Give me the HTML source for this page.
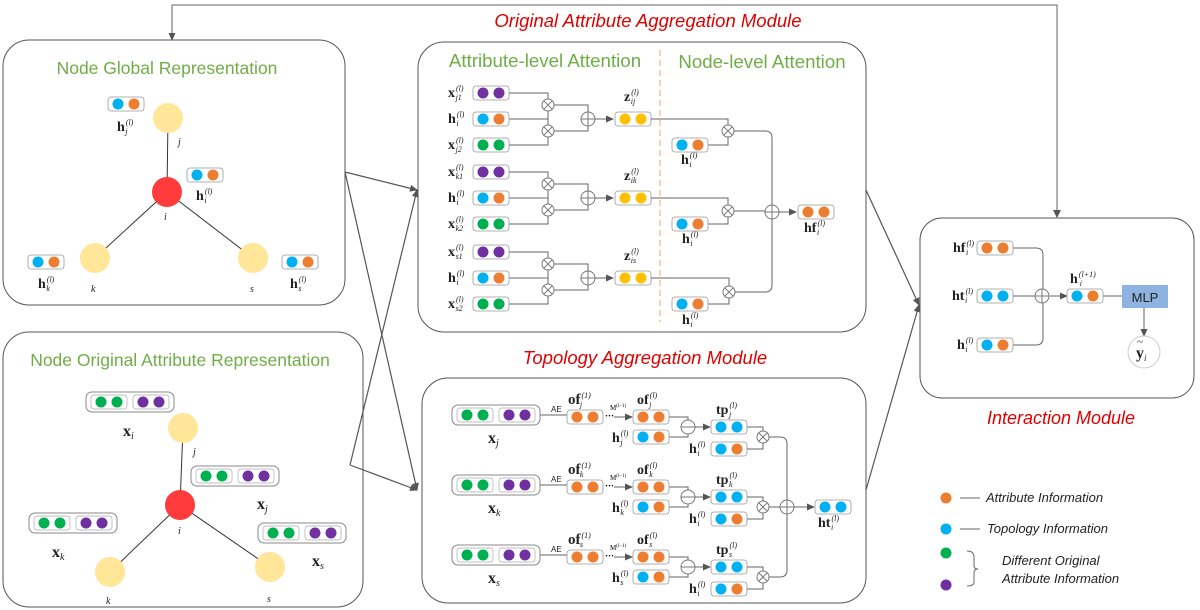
<!DOCTYPE html>
<html><head><meta charset="utf-8"><style>
html,body{margin:0;padding:0;background:#fff}
svg{display:block}
.t{font-family:"Liberation Sans",sans-serif}
.g{fill:#70AD47;font-size:17.5px}
.g2{fill:#70AD47;font-size:18.7px}
.r{fill:#E00000;font-size:18.5px;font-style:italic}
.m{font-family:"Liberation Serif",serif;font-weight:bold;font-size:14px;fill:#222}
.s{font-size:8px;font-weight:normal;font-style:italic}
.it{font-family:"Liberation Serif",serif;font-style:italic;font-size:10px;fill:#222}
.ln{fill:none;stroke:#666;stroke-width:1}
.lg{font-family:"Liberation Sans",sans-serif;font-style:italic;font-size:13px;fill:#222}
</style></head><body>
<svg width="1200" height="610" viewBox="0 0 1200 610" xmlns="http://www.w3.org/2000/svg">
<defs>
<marker id="ar" markerWidth="8" markerHeight="8" refX="7" refY="4" orient="auto" markerUnits="userSpaceOnUse"><path d="M0,0.5 L8,4 L0,7.5z" fill="#555"/></marker>
<g id="pr"><rect x="-18" y="-7" width="36" height="14" rx="3" fill="#fff" stroke="#999" stroke-width="0.8"/></g>
<g id="BO"><use href="#pr"/><circle cx="-8" r="5.5" fill="#00B0F0"/><circle cx="8" r="5.5" fill="#ED7D31"/></g>
<g id="PP"><use href="#pr"/><circle cx="-8" r="5.5" fill="#7030A0"/><circle cx="8" r="5.5" fill="#7030A0"/></g>
<g id="GG"><use href="#pr"/><circle cx="-8" r="5.5" fill="#00B050"/><circle cx="8" r="5.5" fill="#00B050"/></g>
<g id="YY"><use href="#pr"/><circle cx="-8" r="5.5" fill="#FFC000"/><circle cx="8" r="5.5" fill="#FFC000"/></g>
<g id="OO"><use href="#pr"/><circle cx="-8" r="5.5" fill="#ED7D31"/><circle cx="8" r="5.5" fill="#ED7D31"/></g>
<g id="BB"><use href="#pr"/><circle cx="-8" r="5.5" fill="#00B0F0"/><circle cx="8" r="5.5" fill="#00B0F0"/></g>
<g id="X4"><rect x="-44" y="-10" width="88" height="20" rx="6" fill="#fff" stroke="#888"/>
<rect x="-39" y="-7" width="36" height="14" rx="3" fill="#fff" stroke="#aaa" stroke-width="0.7"/>
<rect x="3" y="-7" width="36" height="14" rx="3" fill="#fff" stroke="#aaa" stroke-width="0.7"/>
<circle cx="-29" r="5.5" fill="#00B050"/><circle cx="-13" r="5.5" fill="#00B050"/>
<circle cx="13" r="5.5" fill="#7030A0"/><circle cx="29" r="5.5" fill="#7030A0"/></g>
<g id="OT"><circle r="6" fill="#fff" stroke="#777"/><path d="M-4.2,-4.2L4.2,4.2M4.2,-4.2L-4.2,4.2" stroke="#777"/></g>
<g id="OP"><circle r="7" fill="#fff" stroke="#777"/><path d="M-7,0H7M0,-7V7" stroke="#777"/></g>
<g id="OM"><circle r="7" fill="#fff" stroke="#777"/><path d="M-7,0H7" stroke="#777"/></g>
</defs>

<path class="ln" d="M1057,217 V5 H172 V40" marker-end="url(#ar)" stroke="#555"/>
<path d="M1053,210 L1057,218 L1061,210z" fill="#555"/>

<rect x="3" y="40" width="342" height="265" rx="26" fill="#fff" stroke="#555"/>
<rect x="3" y="332" width="360" height="275" rx="26" fill="#fff" stroke="#555"/>
<rect x="418" y="42" width="448" height="290" rx="26" fill="#fff" stroke="#555"/>
<rect x="422" y="378" width="444" height="225" rx="26" fill="#fff" stroke="#555"/>
<rect x="920" y="218" width="274" height="180" rx="22" fill="#fff" stroke="#555"/>

<g stroke="#555" stroke-width="1.2" fill="none">
<path d="M345,172 L417,190" marker-end="url(#ar)"/>
<path d="M345,172 L417,490" marker-end="url(#ar)"/>
<path d="M350,465 L417,190" marker-end="url(#ar)"/>
<path d="M350,465 L417,490" marker-end="url(#ar)"/>
<path d="M866,190 L919,305" marker-end="url(#ar)"/>
<path d="M866,490 L919,305" marker-end="url(#ar)"/>
</g>

<text class="t g" x="167" y="74" text-anchor="middle">Node Global Representation</text>
<text class="t g" x="180" y="366" text-anchor="middle">Node Original Attribute Representation</text>
<text class="t r" x="648" y="27" text-anchor="middle">Original Attribute Aggregation Module</text>
<text class="t r" x="645" y="364" text-anchor="middle">Topology Aggregation Module</text>
<text class="t r" x="1061" y="424" text-anchor="middle" style="font-size:18px">Interaction Module</text>
<text class="t g2" x="545" y="67" text-anchor="middle">Attribute-level Attention</text>
<text class="t g2" x="762" y="68" text-anchor="middle">Node-level Attention</text>
<path d="M660,50 V322" stroke="#F4B183" stroke-width="1.2" stroke-dasharray="6,4"/>

<g stroke="#333" stroke-width="1">
<path d="M167,192 L168,118 M167,192 L95,258 M167,192 L253,258"/>
<path d="M180,505 L183,428 M180,505 L110,572 M180,505 L270,567"/>
</g>
<circle cx="168" cy="118" r="15" fill="#FFE699"/><circle cx="95" cy="258" r="15" fill="#FFE699"/><circle cx="253" cy="258" r="15" fill="#FFE699"/>
<circle cx="167" cy="192" r="15" fill="#FF3B3B"/>
<circle cx="183" cy="428" r="15" fill="#FFE699"/><circle cx="110" cy="572" r="15" fill="#FFE699"/><circle cx="270" cy="567" r="15" fill="#FFE699"/>
<circle cx="180" cy="505" r="15" fill="#FF3B3B"/>
<text class="it" x="178" y="145">j</text><text class="it" x="164" y="220">i</text><text class="it" x="91" y="292">k</text><text class="it" x="250" y="292">s</text>
<text class="it" x="193" y="455">j</text><text class="it" x="178" y="534">i</text><text class="it" x="106" y="604">k</text><text class="it" x="267" y="602">s</text>
<use href="#BO" x="126" y="104"/><use href="#BO" x="205" y="175"/><use href="#BO" x="46" y="262"/><use href="#BO" x="300" y="262"/>
<g class="m">
<text x="117" y="131">h<tspan class="s" dx="1" dy="-6">(l)</tspan><tspan class="s" dx="-8" dy="9">j</tspan></text>
<text x="196" y="200">h<tspan class="s" dx="1" dy="-6">(l)</tspan><tspan class="s" dx="-8" dy="9">i</tspan></text>
<text x="38" y="288">h<tspan class="s" dx="1" dy="-6">(l)</tspan><tspan class="s" dx="-8" dy="9">k</tspan></text>
<text x="290" y="288">h<tspan class="s" dx="1" dy="-6">(l)</tspan><tspan class="s" dx="-8" dy="9">s</tspan></text>
</g>
<use href="#X4" x="130" y="402"/><use href="#X4" x="235" y="476"/><use href="#X4" x="73" y="523"/><use href="#X4" x="302" y="533"/>
<text class="m" x="123" y="436" style="font-size:16px">x<tspan class="s" dy="3" style="font-size:10px">i</tspan></text>
<text class="m" x="257" y="509" style="font-size:16px">x<tspan class="s" dy="3" style="font-size:10px">j</tspan></text>
<text class="m" x="52" y="557" style="font-size:16px">x<tspan class="s" dy="3" style="font-size:10px">k</tspan></text>
<text class="m" x="312" y="566" style="font-size:16px">x<tspan class="s" dy="3" style="font-size:10px">s</tspan></text>

<g id="grp1">
<path class="ln" d="M509,93 H548 V145 H509 M509,119 H548 M554,105 H588 V131 H554"/>
<path class="ln" d="M595,119 H613" marker-end="url(#ar)"/>
<use href="#PP" x="491" y="93"/><use href="#BO" x="491" y="119"/><use href="#GG" x="491" y="145"/>
<use href="#OT" x="548" y="105"/><use href="#OT" x="548" y="131"/><use href="#OP" x="588" y="119"/>
<use href="#YY" x="633" y="119"/>
</g>
<use href="#grp1" y="79"/><use href="#grp1" y="159"/>
<g class="m">
<text x="448" y="97">x<tspan class="s" dx="1" dy="-6">(l)</tspan><tspan class="s" dx="-8" dy="9">j1</tspan></text>
<text x="448" y="123">h<tspan class="s" dx="1" dy="-6">(l)</tspan><tspan class="s" dx="-8" dy="9">i</tspan></text>
<text x="448" y="149">x<tspan class="s" dx="1" dy="-6">(l)</tspan><tspan class="s" dx="-8" dy="9">j2</tspan></text>
<text x="448" y="176">x<tspan class="s" dx="1" dy="-6">(l)</tspan><tspan class="s" dx="-8" dy="9">k1</tspan></text>
<text x="448" y="202">h<tspan class="s" dx="1" dy="-6">(l)</tspan><tspan class="s" dx="-8" dy="9">i</tspan></text>
<text x="448" y="228">x<tspan class="s" dx="1" dy="-6">(l)</tspan><tspan class="s" dx="-8" dy="9">k2</tspan></text>
<text x="448" y="256">x<tspan class="s" dx="1" dy="-6">(l)</tspan><tspan class="s" dx="-8" dy="9">s1</tspan></text>
<text x="448" y="282">h<tspan class="s" dx="1" dy="-6">(l)</tspan><tspan class="s" dx="-8" dy="9">i</tspan></text>
<text x="448" y="308">x<tspan class="s" dx="1" dy="-6">(l)</tspan><tspan class="s" dx="-8" dy="9">s2</tspan></text>
<text x="624" y="101">z<tspan class="s" dx="1" dy="-6">(l)</tspan><tspan class="s" dx="-8" dy="9">ij</tspan></text>
<text x="624" y="180">z<tspan class="s" dx="1" dy="-6">(l)</tspan><tspan class="s" dx="-8" dy="9">ik</tspan></text>
<text x="624" y="260">z<tspan class="s" dx="1" dy="-6">(l)</tspan><tspan class="s" dx="-8" dy="9">is</tspan></text>
<text x="681" y="164">h<tspan class="s" dx="1" dy="-6">(l)</tspan><tspan class="s" dx="-8" dy="9">i</tspan></text>
<text x="682" y="243">h<tspan class="s" dx="1" dy="-6">(l)</tspan><tspan class="s" dx="-8" dy="9">i</tspan></text>
<text x="682" y="324">h<tspan class="s" dx="1" dy="-6">(l)</tspan><tspan class="s" dx="-8" dy="9">i</tspan></text>
<text x="804" y="232">hf<tspan class="s" dx="1" dy="-6">(l)</tspan><tspan class="s" dx="-8" dy="9">i</tspan></text>
</g>

<path class="ln" d="M651,119 H728 V125 M708,145 H728 V137 M651,198 H728 V205 M708,224 H728 V217 M651,278 H729 V286 M708,304 H729 V298"/>
<path class="ln" d="M734,131 H765 Q772,131 772,138 V205 M735,292 H765 Q772,292 772,285 V219 M734,211 H765"/>
<path class="ln" d="M779,212 H796" marker-end="url(#ar)"/>
<use href="#BO" x="690" y="145"/><use href="#BO" x="690" y="224"/><use href="#BO" x="690" y="304"/>
<use href="#OT" x="728" y="131"/><use href="#OT" x="728" y="211"/><use href="#OT" x="729" y="292"/>
<use href="#OP" x="772" y="212"/><use href="#OO" x="816" y="212"/>

<g id="trow">
<path class="ln" d="M540,415 H567 M669,417 H688 V420 M669,437 H688 V434 M747,427 H763 V431 M747,449 H763 V443"/>
<path class="ln" d="M614,417 H632" marker-end="url(#ar)"/>
<path class="ln" d="M695,427 H710" marker-end="url(#ar)"/>
<text x="605" y="419" style="font-size:9px;font-family:'Liberation Serif',serif;font-weight:bold">···</text>
<text x="551" y="412" class="t" style="font-size:8px;fill:#222">AE</text>
<use href="#X4" x="496" y="415"/>
<use href="#OO" x="585" y="417"/><use href="#OO" x="651" y="417"/><use href="#BO" x="651" y="437"/>
<use href="#OM" x="688" y="427"/><use href="#BB" x="729" y="427"/><use href="#BO" x="729" y="449"/>
<use href="#OT" x="763" y="437"/>
</g>
<use href="#trow" y="70"/><use href="#trow" y="140"/>
<path class="ln" d="M769,437 H780 Q787,437 787,444 V500 M769,577 H780 Q787,577 787,570 V514 M769,507 H780"/>
<path class="ln" d="M794,507 H814" marker-end="url(#ar)"/>
<use href="#OP" x="787" y="507"/><use href="#BB" x="833" y="507"/>
<g class="m">
<text x="488" y="443" style="font-size:16px">x<tspan class="s" dy="3" style="font-size:10px">j</tspan></text>
<text x="488" y="513" style="font-size:16px">x<tspan class="s" dy="3" style="font-size:10px">k</tspan></text>
<text x="488" y="583" style="font-size:16px">x<tspan class="s" dy="3" style="font-size:10px">s</tspan></text>
<text x="568" y="404" style="font-size:15px">of<tspan class="s" dx="1" dy="-6">(1)</tspan><tspan class="s" dx="-11" dy="9">j</tspan></text>
<text x="568" y="474" style="font-size:15px">of<tspan class="s" dx="1" dy="-6">(1)</tspan><tspan class="s" dx="-11" dy="9">k</tspan></text>
<text x="568" y="544" style="font-size:15px">of<tspan class="s" dx="1" dy="-6">(1)</tspan><tspan class="s" dx="-11" dy="9">s</tspan></text>
<text x="637" y="404">of<tspan class="s" dx="1" dy="-6">(l)</tspan><tspan class="s" dx="-8" dy="9">j</tspan></text>
<text x="637" y="474">of<tspan class="s" dx="1" dy="-6">(l)</tspan><tspan class="s" dx="-8" dy="9">k</tspan></text>
<text x="637" y="544">of<tspan class="s" dx="1" dy="-6">(l)</tspan><tspan class="s" dx="-8" dy="9">s</tspan></text>
<text x="612" y="442">h<tspan class="s" dx="1" dy="-6">(l)</tspan><tspan class="s" dx="-8" dy="9">j</tspan></text>
<text x="612" y="512">h<tspan class="s" dx="1" dy="-6">(l)</tspan><tspan class="s" dx="-8" dy="9">k</tspan></text>
<text x="612" y="582">h<tspan class="s" dx="1" dy="-6">(l)</tspan><tspan class="s" dx="-8" dy="9">s</tspan></text>
<text x="716" y="414">tp<tspan class="s" dx="1" dy="-6">(l)</tspan><tspan class="s" dx="-8" dy="9">j</tspan></text>
<text x="716" y="484">tp<tspan class="s" dx="1" dy="-6">(l)</tspan><tspan class="s" dx="-8" dy="9">k</tspan></text>
<text x="716" y="554">tp<tspan class="s" dx="1" dy="-6">(l)</tspan><tspan class="s" dx="-8" dy="9">s</tspan></text>
<text x="689" y="453">h<tspan class="s" dx="1" dy="-6">(l)</tspan><tspan class="s" dx="-8" dy="9">i</tspan></text>
<text x="689" y="523">h<tspan class="s" dx="1" dy="-6">(l)</tspan><tspan class="s" dx="-8" dy="9">i</tspan></text>
<text x="689" y="593">h<tspan class="s" dx="1" dy="-6">(l)</tspan><tspan class="s" dx="-8" dy="9">i</tspan></text>
<text x="818" y="527">ht<tspan class="s" dx="1" dy="-6">(l)</tspan><tspan class="s" dx="-8" dy="9">i</tspan></text>
</g>
<text x="610" y="410" style="font-size:7px;font-family:'Liberation Serif',serif">M<tspan dy="-3" style="font-size:5px">(l−1)</tspan></text>
<text x="610" y="480" style="font-size:7px;font-family:'Liberation Serif',serif">M<tspan dy="-3" style="font-size:5px">(l−1)</tspan></text>
<text x="610" y="550" style="font-size:7px;font-family:'Liberation Serif',serif">M<tspan dy="-3" style="font-size:5px">(l−1)</tspan></text>

<path class="ln" d="M1013,248 H1036 Q1043,248 1043,255 V338 Q1043,345 1036,345 H1013 M1013,296 H1036"/>
<path class="ln" d="M1050,296 H1067" marker-end="url(#ar)"/>
<path class="ln" d="M1103,296 H1122 M1144,308 V336" marker-end="url(#ar)"/>
<use href="#OO" x="995" y="248"/><use href="#BB" x="995" y="296"/><use href="#BO" x="995" y="345"/>
<use href="#OP" x="1042" y="296"/><use href="#BO" x="1085" y="296"/>
<rect x="1122" y="285" width="46" height="23" fill="#8FB3E0"/>
<text class="t" x="1145" y="302" text-anchor="middle" style="font-size:13px;fill:#222">MLP</text>
<circle cx="1144" cy="352" r="16" fill="#fff" stroke="#ccc"/>
<text class="m" x="1136" y="358" style="font-size:16px">y<tspan class="s" dy="3" style="font-size:9px">i</tspan></text>
<text class="m" x="1137" y="345" style="font-size:11px;font-weight:normal">~</text>
<g class="m">
<text x="953" y="252">hf<tspan class="s" dx="1" dy="-6">(l)</tspan><tspan class="s" dx="-8" dy="9">i</tspan></text>
<text x="952" y="300">ht<tspan class="s" dx="1" dy="-6">(l)</tspan><tspan class="s" dx="-8" dy="9">i</tspan></text>
<text x="957" y="349">h<tspan class="s" dx="1" dy="-6">(l)</tspan><tspan class="s" dx="-8" dy="9">i</tspan></text>
<text x="1070" y="283">h<tspan class="s" dx="1" dy="-6">(l+1)</tspan><tspan class="s" dx="-16" dy="9">i</tspan></text>
</g>

<circle cx="946" cy="498" r="5.5" fill="#ED7D31"/><circle cx="946" cy="529" r="5.5" fill="#00B0F0"/>
<circle cx="946" cy="553" r="5.5" fill="#00B050"/><circle cx="946" cy="585" r="5.5" fill="#7030A0"/>
<path d="M960,498 H980 M960,529 H980" stroke="#666"/>
<path d="M967,551 Q974,551 974,557 V566 Q974,569 978,569 Q974,569 974,573 V582 Q974,586 967,586" fill="none" stroke="#666"/>
<text class="lg" x="986" y="502">Attribute Information</text>
<text class="lg" x="987" y="533">Topology Information</text>
<text class="lg" x="1002" y="565">Different Original</text>
<text class="lg" x="1002" y="583">Attribute Information</text>
</svg>
</body></html>
